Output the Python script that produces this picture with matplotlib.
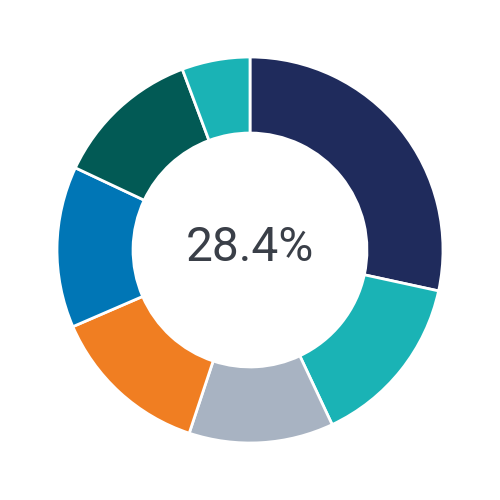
import matplotlib.pyplot as plt

# slice shares in percent, clockwise from 12 o'clock
values = [28.4, 14.6, 12.1, 13.4, 13.5, 12.3, 5.7]
colors = ['#1f2b5c', '#1ab3b5', '#a8b3c2', '#f07e22', '#0076b6', '#025a55', '#1ab3b5']
center_label = "28.4%"

fig = plt.figure(figsize=(5, 5), dpi=100)
ax = fig.add_axes([0, 0, 1, 1])

ax.pie(values, colors=colors, startangle=90, counterclock=False,
       radius=1.0,
       wedgeprops=dict(width=0.394, edgecolor='white', linewidth=2))

ax.text(0, 0.01, center_label, ha='center', va='center', fontsize=34.5,
        family='Roboto', color='#3a3f48')

lim = 250 / 193
ax.set_xlim(-lim, lim)
ax.set_ylim(-lim, lim)
ax.set_aspect('equal')
ax.axis('off')

fig.savefig('out.png', dpi=100, facecolor='white')
